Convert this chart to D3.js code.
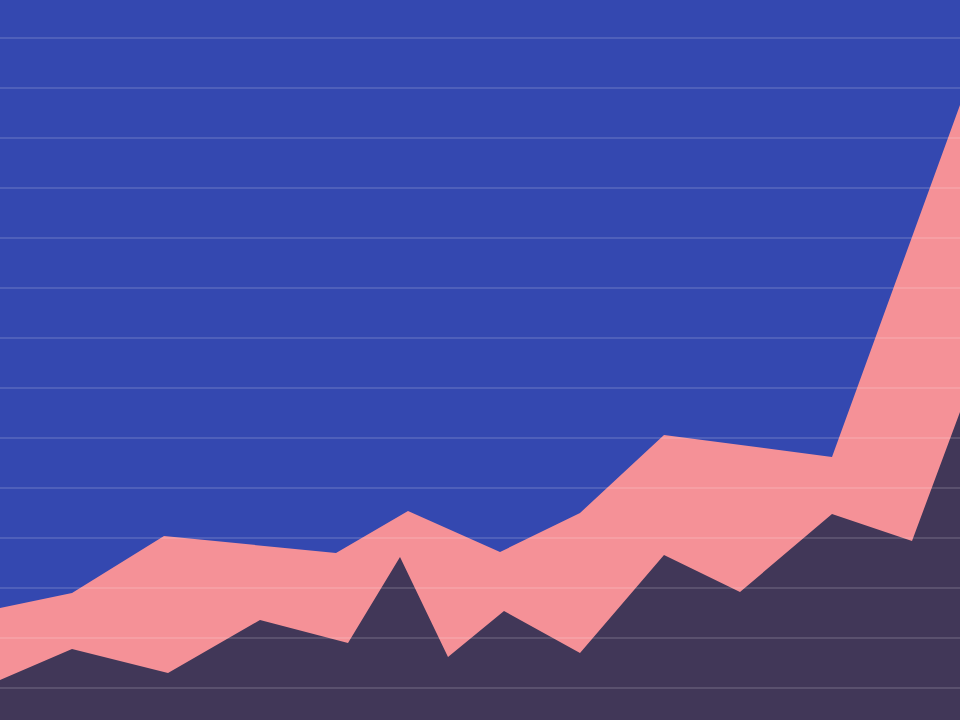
<!DOCTYPE html>
<html>
<head>
<meta charset="utf-8">
<script src="https://cdn.jsdelivr.net/npm/d3@7"></script>
<style>
  html, body { margin: 0; padding: 0; background: #3448b0; overflow: hidden; }
  svg { display: block; }
</style>
</head>
<body>
<div class="chart"></div>
<script>
// day offsets and values
var pinkDays   = [0, 18, 41, 84, 102, 125, 145, 166, 208, 240];
var pinkValues = [25.9, 28.9, 40.3, 36.9, 45.3, 37.1, 44.9, 60.5, 56.1, 126.5];

var darkDays   = [0, 18, 42, 65, 87, 100, 112, 126, 145, 166, 185, 208, 228, 240];
var darkValues = [11.5, 17.7, 12.9, 23.5, 18.9, 36.1, 16.1, 25.3, 16.9, 36.5, 29.1, 44.7, 39.3, 65.1];

var gridTicks = [10, 20, 30, 40, 50, 60, 70, 80, 90, 100, 110, 120, 130, 140];

var width = 960,
    height = 720;

var svg = d3.select('.chart').append('svg')
  .attr('width', width)
  .attr('height', height);

svg.append('rect')
  .attr('width', width)
  .attr('height', height)
  .attr('fill', '#3448b0');

var x = d3.scaleLinear().domain([0, 240]).range([0, width]);
var y = d3.scaleLinear().domain([0, 147.5]).range([737.5, 0]);

function series(days, values) {
  return days.map(function(d, i) { return {day: d, value: values[i]}; });
}

var area = d3.area()
  .x(function(d) { return x(d.day); })
  .y0(y(0))
  .y1(function(d) { return y(d.value); });

svg.append('path')
  .datum(series(pinkDays, pinkValues))
  .attr('fill', '#f59197')
  .attr('d', area);

svg.append('path')
  .datum(series(darkDays, darkValues))
  .attr('fill', '#413758')
  .attr('d', area);

// gridlines sit on top of both areas
var grid = svg.append('g')
  .call(d3.axisLeft(y).tickValues(gridTicks).tickSize(-width).tickFormat(''));
grid.select('.domain').remove();
grid.selectAll('.tick line')
  .attr('stroke', '#ffffff')
  .attr('stroke-opacity', 0.18)
  .attr('stroke-width', 1.5);
</script>
</body>
</html>
